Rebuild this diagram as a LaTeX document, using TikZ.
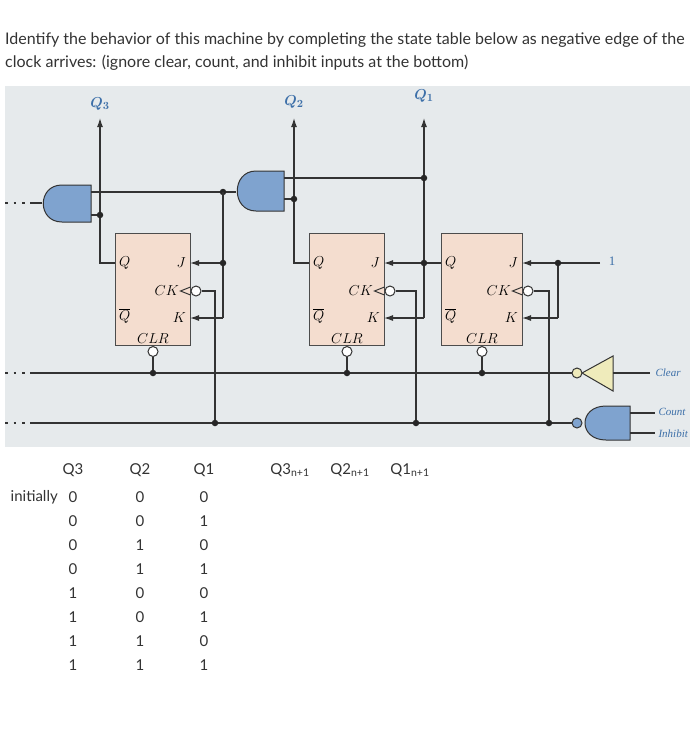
\documentclass[tikz,border=0pt]{standalone}
\usepackage{bm}
\usepackage{fontspec}
\setmainfont{Lato}
\newfontfamily\serifit{Liberation Serif}
\usetikzlibrary{arrows.meta}
\definecolor{txt}{HTML}{333333}
\definecolor{gateblue}{HTML}{7FA3CF}
\definecolor{ffill}{HTML}{F4DDCF}
\definecolor{invy}{HTML}{EFEBBB}
\definecolor{lblue}{HTML}{3C6FA8}
\definecolor{photo}{HTML}{E6EAEC}
\begin{document}
\begin{tikzpicture}[x=1pt,y=-1pt,
  wire/.style={line width=1.2pt,draw=black!80},
  arr/.style={wire,-{Latex[length=9pt,width=6pt]}},
  gatestyle/.style={fill=gateblue,draw=black!80,line width=1pt},
  ffbox/.style={draw=black!70,fill=ffill,line width=1pt,minimum width=75pt,minimum height=112pt,anchor=north west,inner sep=0pt},
  pin/.style={font=\fontsize{15}{17}\selectfont,inner sep=1pt},
  dotn/.style={circle,fill=black!85,inner sep=0pt,minimum size=6.5pt},
  bub/.style={circle,draw=black!80,fill=white,line width=1pt,inner sep=0pt,minimum size=10pt},
  qlbl/.style={font=\fontsize{15}{17}\selectfont,text=lblue},
  slbl/.style={font=\serifit\itshape\fontsize{11}{13}\selectfont,text=lblue,anchor=west},
  hdr/.style={font=\fontsize{16}{19}\selectfont,text=txt},
  cell/.style={font=\fontsize{15}{18}\selectfont,text=txt}]
\useasboundingbox (0,0) rectangle (700,756);
\fill[white] (0,0) rectangle (700,756);
% header
\node[hdr,anchor=west,inner sep=0pt] (h1) at (5,40) {Identify the behavior of this machine by completing the state table below as negative edge of the};
\node[hdr,anchor=west,inner sep=0pt] (h2) at (5,63) {clock arrives: (ignore clear, count, and inhibit inputs at the bottom)};
% photo background
\fill[photo] (5,86) rectangle (690,447);
% flip-flops
\node[ffbox] (ff3) at (115,233) {};
\node[ffbox] (ff2) at (309,233) {};
\node[ffbox,minimum width=81pt] (ff1) at (441,233) {};
\foreach \f in {ff3,ff2,ff1}{
  \node[pin,anchor=west] (\f q) at ([xshift=3pt,yshift=-30pt]\f.north west) {$Q$};
  \node[pin,anchor=west] (\f qb) at ([xshift=3pt,yshift=-83pt]\f.north west) {$\overline{Q}$};
  \node[pin,anchor=east] (\f j) at ([xshift=-4pt,yshift=-30pt]\f.north east) {$J$};
  \node[pin,anchor=east] (\f k) at ([xshift=-4pt,yshift=-85pt]\f.north east) {$K$};
  \node[pin,anchor=east] (\f ck) at ([xshift=-11pt,yshift=-58pt]\f.north east) {$CK$};
  \node[pin,anchor=south] (\f clr) at ([yshift=1pt]\f.south) {$CLR$};
  \node[bub] (\f cb) at ([xshift=5pt,yshift=-58pt]\f.north east) {};
  \node[bub,anchor=north] (\f rb) at (\f.south) {};
  \draw[black!80,line width=1pt] ([yshift=-4pt]\f cb.west) -- ([xshift=-10pt]\f cb.west) -- ([yshift=4pt]\f cb.west);
}
% coordinates
\coordinate (q3top) at (100,118);
\coordinate (q2top) at (294,118);
\coordinate (q1top) at (424,118);
\coordinate (one) at (600,263);
% gates
\draw[gatestyle] (91,185) -- (62,185) .. controls (37,185) and (37,222) .. (62,222) -- (91,222) -- cycle;
\node (g1) at (70,203) {};
\draw[gatestyle] (284,171) -- (256,171) .. controls (231,171) and (231,211) .. (256,211) -- (284,211) -- cycle;
\node (g2) at (260,191) {};
% Q lines
\draw[arr] (115,263) -- (100,263) -- (q3top);
\draw[arr] (309,263) -- (294,263) -- (q2top);
\draw[arr] (441,263) -- (424,263) -- (q1top);
\node[qlbl] (lq3) at (100,104) {$\bm{Q_3}$};
\node[qlbl] (lq2) at (294,102) {$\bm{Q_2}$};
\node[qlbl] (lq1) at (424,96) {$\bm{Q_1}$};
% gate wiring
\draw[wire,dash pattern=on 2.5pt off 6pt] (5,203) -- (30,203);
\draw[wire] (30,203) -- (42,203);
\draw[wire] (91,192) -- (236,192);
\draw[wire] (91,215) -- (100,215);
\node[dotn] (d1) at (100,215) {};
\node[dotn] (d2) at (223,192) {};
\draw[wire] (284,178) -- (424,178);
\node[dotn] (d3) at (424,178) {};
\draw[wire] (284,199) -- (294,199);
\node[dotn] (d4) at (294,199) {};
% J/K of ff3
\draw[wire] (223,192) -- (223,318);
\draw[arr] (223,263) -- (190,263);
\draw[arr] (223,318) -- (190,318);
\node[dotn] (d5) at (223,263) {};
% J/K of ff2
\draw[wire] (424,263) -- (424,318);
\draw[arr] (424,263) -- (384,263);
\draw[arr] (424,318) -- (384,318);
\node[dotn] (d6) at (424,263) {};
% J/K of ff1
\draw[wire] (one) -- (558,263) -- (558,318);
\draw[arr] (558,263) -- (522,263);
\draw[arr] (558,318) -- (522,318);
\node[dotn] (d7) at (558,263) {};
\node[font=\serifit\fontsize{13}{15}\selectfont,text=lblue] (lone) at (612,261) {1};
% clock lines
\draw[wire] (ff3cb.east) -- (215,291) -- (215,423);
\draw[wire] (ff2cb.east) -- (416,291) -- (416,423);
\draw[wire] (ff1cb.east) -- (549,291) -- (549,423);
% clear line
\draw[wire,dash pattern=on 2.5pt off 6pt] (5,373) -- (30,373);
\draw[wire] (30,373) -- (572,373);
\foreach \f in {ff3,ff2,ff1}{
  \draw[wire] (\f rb.south) -- (\f rb.south |- 0,373);
  \node[dotn] at (\f rb.south |- 0,373) {};
}
\node[bub,fill=invy] (ib) at (577,373) {};
\draw[fill=invy,draw=black!80,line width=1pt] (582,373) -- (613,356) -- (613,391) -- cycle;
\node (inv) at (603,373) {};
\draw[wire] (613,373) -- (650,373);
\node[slbl] (lclr) at (652,373) {Clear};
% count line
\draw[wire,dash pattern=on 2.5pt off 6pt] (5,423) -- (30,423);
\draw[wire] (30,423) -- (572,423);
\foreach \x in {215,416,549}{\node[dotn] at (\x,423) {};}
\node[bub,fill=gateblue] (cb) at (577,423) {};
\draw[gatestyle] (630,406) -- (606,406) .. controls (578,406) and (578,440) .. (606,440) -- (630,440) -- cycle;
\node (g3) at (610,423) {};
\draw[wire] (630,413) -- (655,413);
\draw[wire] (630,433) -- (655,433);
\node[slbl] (lcnt) at (655,412) {Count};
\node[slbl] (linh) at (655,434) {Inhibit};
% table
\node[cell] (tq3) at (73,470) {Q3};
\node[cell] (tq2) at (140,470) {Q2};
\node[cell] (tq1) at (204,470) {Q1};
\node[cell] (tn3) at (290,470) {Q3\textsubscript{n+1}};
\node[cell] (tn2) at (350,470) {Q2\textsubscript{n+1}};
\node[cell] (tn1) at (410,470) {Q1\textsubscript{n+1}};
\node[cell,anchor=east,inner sep=0pt] (init) at (58,497) {initially};
\foreach \a/\b/\c [count=\i from 0] in {0/0/0,0/0/1,0/1/0,0/1/1,1/0/0,1/0/1,1/1/0,1/1/1}{
  \node[cell] (r\i a) at (73,497+24*\i) {\a};
  \node[cell] (r\i b) at (140,497+24*\i) {\b};
  \node[cell] (r\i c) at (204,497+24*\i) {\c};
}
\end{tikzpicture}
\end{document}
